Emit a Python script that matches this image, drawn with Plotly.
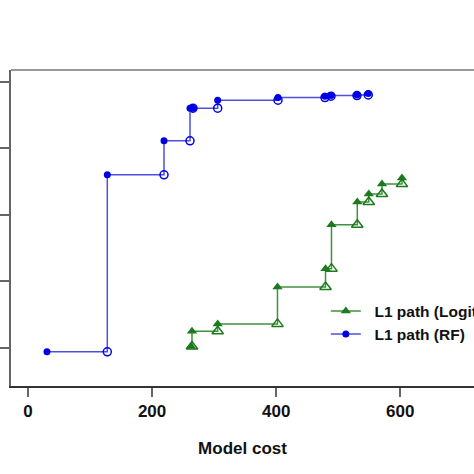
import plotly.graph_objects as go

# Data
rf_cost = [30.6, 127.8, 219.2, 261.1, 265.9, 305.7, 402.9, 478.6, 488.3, 530.2, 548.4]
rf_perf = [0.494, 0.760, 0.811, 0.860, 0.860, 0.872, 0.876, 0.878, 0.879, 0.880, 0.882]

logit_cost = [262.7, 264.3, 305.7, 402.1, 479.5, 489.1, 530.7, 549.2, 570.5, 602.7]
logit_perf = [0.502, 0.525, 0.536, 0.5915, 0.619, 0.685, 0.719, 0.731, 0.746, 0.755]

x_ticks = [0, 200, 400, 600, 800]
y_ticks = [0.5, 0.6, 0.7, 0.8, 0.9]

BLUE_M = "#0000E6"
BLUE_L = "#4F4FE0"
GREEN_M = "#1C7A1C"
GREEN_L = "#3F923F"

NB = "\u00a0\u00a0"

fig = go.Figure()

# Logit path
fig.add_trace(go.Scatter(
    x=logit_cost, y=logit_perf, mode="lines+markers", name=NB + "L1 path (Logit)",
    line=dict(shape="hv", color=GREEN_L, width=1.5),
    marker=dict(symbol="triangle-up", size=9, color=GREEN_M),
))
fig.add_trace(go.Scatter(
    x=logit_cost[1:], y=logit_perf[:-1], mode="markers", showlegend=False,
    marker=dict(symbol="triangle-up-open", size=10, color=GREEN_M, line=dict(width=1.5)),
))

# RF path
fig.add_trace(go.Scatter(
    x=rf_cost, y=rf_perf, mode="lines+markers", name=NB + "L1 path (RF)",
    line=dict(shape="hv", color=BLUE_L, width=1.5),
    marker=dict(symbol="circle", size=7, color=BLUE_M),
))
fig.add_trace(go.Scatter(
    x=rf_cost[1:], y=rf_perf[:-1], mode="markers", showlegend=False,
    marker=dict(symbol="circle-open", size=8, color=BLUE_M, line=dict(width=1.5)),
))

FONT = "Liberation Sans, Arial, sans-serif"

fig.update_layout(
    width=474, height=474,
    margin=dict(l=11, r=0, t=70, b=88, autoexpand=False),
    paper_bgcolor="white", plot_bgcolor="white",
    font=dict(family=FONT, size=16, color="#111"),
    legend=dict(
        x=0.68, y=0.29, xanchor="left", yanchor="top",
        bgcolor="rgba(255,255,255,0)", borderwidth=0,
        font=dict(family=FONT, size=15.5, color="#111", weight="bold"),
        tracegroupgap=0, itemwidth=30,
    ),
    xaxis=dict(
        range=[-27.4, 718.8], tickvals=x_ticks, ticktext=[f"<b>{v}</b>" for v in x_ticks],
        ticks="outside", ticklen=9, tickwidth=1.5, tickcolor="#666",
        showline=True, linecolor="#333", linewidth=2, mirror=False,
        showgrid=False, zeroline=False, automargin=False,
        tickfont=dict(size=17, color="#111"),
        title=dict(text="<b>Model cost</b>", font=dict(size=17, color="#111"), standoff=22),
    ),
    yaxis=dict(
        range=[0.4427, 0.9174], tickvals=y_ticks, showticklabels=False,
        ticks="outside", ticklen=11, tickwidth=1.5, tickcolor="#666",
        showline=True, linecolor="#666", linewidth=2,
        showgrid=False, zeroline=False, automargin=False,
    ),
    shapes=[dict(type="line", xref="paper", yref="paper", x0=0, x1=1, y0=1, y1=1,
                 line=dict(color="#999", width=2))],
)

fig.write_html("out.html")
